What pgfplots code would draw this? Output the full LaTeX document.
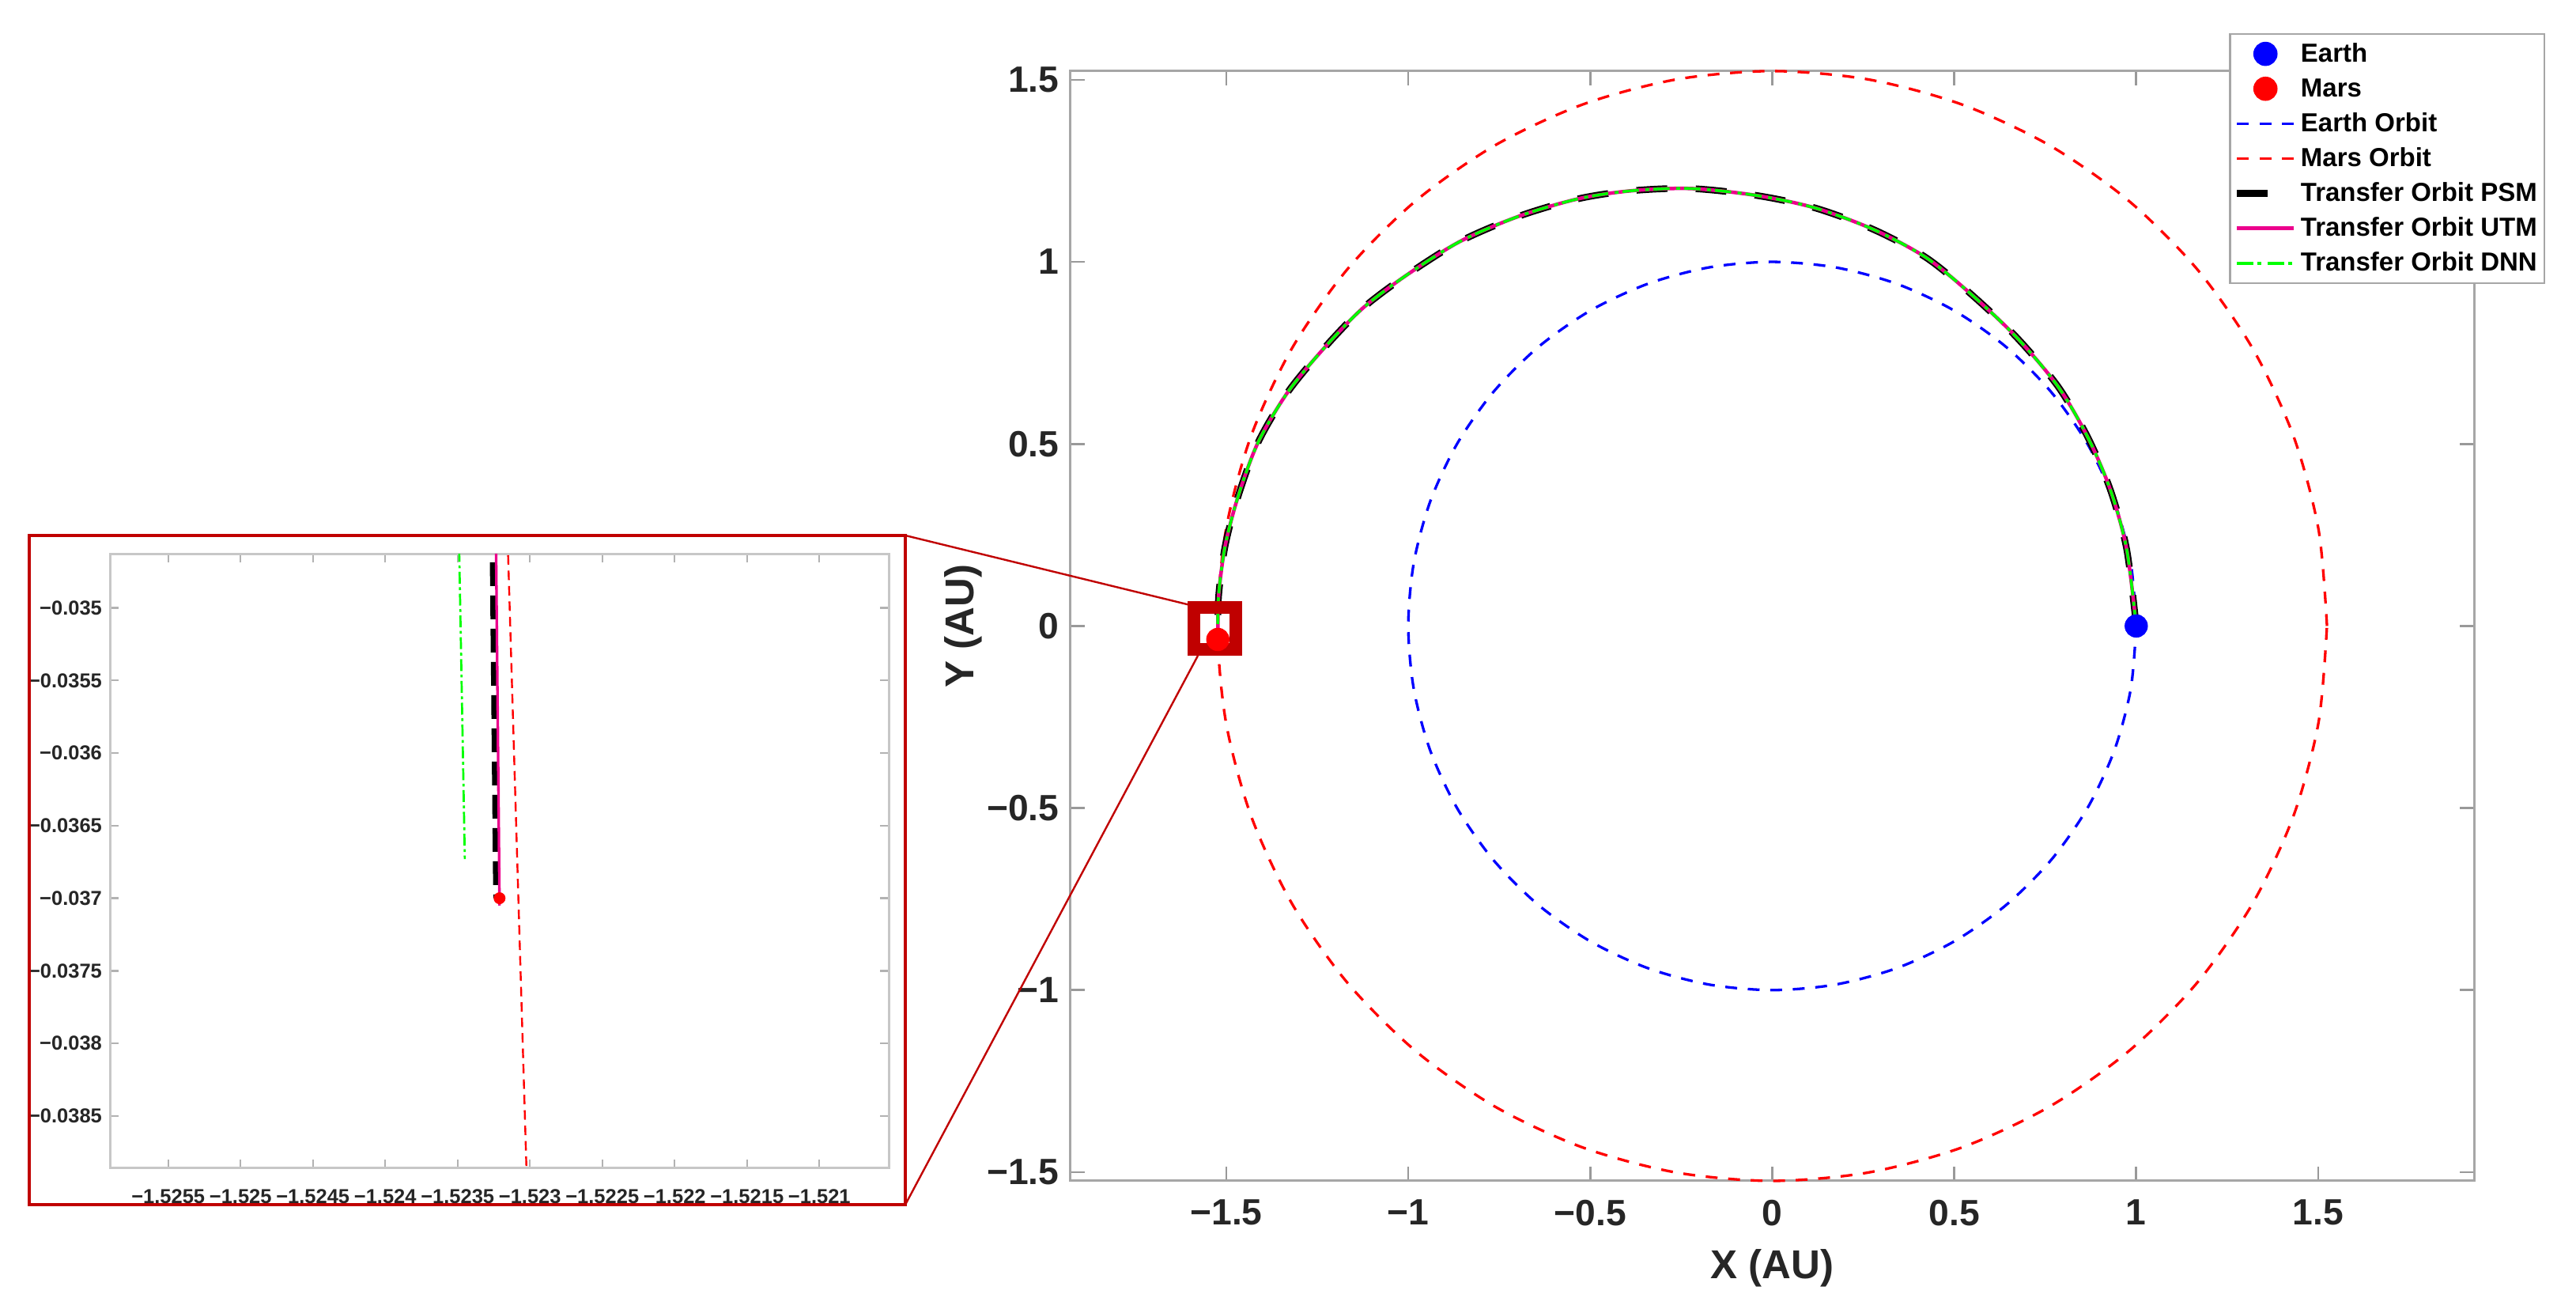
\documentclass[border=0pt]{standalone}
\usepackage{fontspec}
\setmainfont{Liberation Sans}
\usepackage{pgfplots}
\usepackage{pgfplotstable}
\pgfplotsset{compat=1.18}
\definecolor{frameRed}{RGB}{192,0,0}

\pgfplotstableread{
x y
1.0 0.0
0.9735 0.2118
0.9285 0.375
0.8655 0.521
0.7845 0.6585
0.672 0.792
0.5503 0.9077
0.4243 1.0106
0.2802 1.088
0.118 1.148
-0.044 1.1825
-0.224 1.2014
-0.3863 1.1953
-0.5303 1.1738
-0.6924 1.1266
-0.8545 1.0578
-0.9985 0.9678
-1.1247 0.8731
-1.2327 0.7615
-1.3317 0.6413
-1.4128 0.5038
-1.4669 0.3578
-1.503 0.2205
-1.521 0.083
-1.5232 -0.037
}\psm

\pgfplotstableread{
x y
1.0 0.0
0.9735 0.2118
0.9285 0.375
0.8655 0.521
0.7845 0.6585
0.672 0.792
0.5503 0.9077
0.4243 1.0106
0.2802 1.088
0.118 1.148
-0.044 1.1825
-0.224 1.2014
-0.3863 1.1953
-0.5303 1.1738
-0.6924 1.1266
-0.8545 1.0578
-0.9985 0.9678
-1.1247 0.8731
-1.2327 0.7615
-1.3317 0.6413
-1.4128 0.5038
-1.4669 0.3578
-1.503 0.2205
-1.521 0.083
-1.5232 -0.03705
}\utm

\pgfplotstableread{
x y
1.0 0.0
0.9735 0.2118
0.9285 0.375
0.8655 0.521
0.7845 0.6585
0.672 0.792
0.5503 0.9077
0.4243 1.0106
0.2802 1.088
0.118 1.148
-0.044 1.1825
-0.224 1.2014
-0.3863 1.1953
-0.5303 1.1738
-0.6924 1.1266
-0.8545 1.0578
-0.9985 0.9678
-1.1247 0.8731
-1.2327 0.7615
-1.3317 0.6413
-1.4128 0.5038
-1.4669 0.3578
-1.503 0.2205
-1.5212 0.083
-1.5234 -0.0367
}\dnn

\begin{document}
\begin{tikzpicture}
\useasboundingbox (0,0) rectangle (1086pt,553.33pt);

% ---------------- main axis ----------------
\begin{axis}[
  at={(451.3pt,55.67pt)}, anchor=south west,
  scale only axis, width=591.7pt, height=467.7pt,
  xmin=-1.928, xmax=1.928, ymin=-1.524, ymax=1.524,
  clip=false,
  axis line style={draw=black!35, line width=1pt},
  tick style={draw=black!40, line width=0.9pt},
  tick align=inside, major tick length=6pt,
  xtick={-1.5,-1,-0.5,0,0.5,1,1.5},
  xticklabels={−1.5,−1,−0.5,0,0.5,1,1.5},
  ytick={-1.5,-1,-0.5,0,0.5,1,1.5},
  yticklabels={−1.5,−1,−0.5,0,0.5,1,1.5},
  ticklabel style={font=\fontsize{15.4}{18}\selectfont\bfseries, text=black!85},
  xticklabel style={yshift=-4.5pt},
  yticklabel style={xshift=-1.3pt},
  xlabel={X (AU)}, ylabel={Y (AU)},
  label style={font=\fontsize{17}{20}\selectfont\bfseries, text=black!85},
  xlabel style={at={(axis description cs:0.5,0)}, anchor=center, yshift=-36.7pt},
  ylabel style={at={(axis description cs:-0.0766,0.5)}, anchor=center},
  legend style={at={(axis description cs:1.0507,1.0342)}, anchor=north east,
    draw=black!35, line width=0.8pt, fill=white,
    font=\fontsize{11}{13}\selectfont\bfseries,
    inner xsep=1.5pt, inner ysep=1pt, row sep=0pt,
    nodes={text height=7.9pt, text depth=1.2pt, inner ysep=2.8pt, inner xsep=1.5pt}},
  legend cell align=left,
  legend image code/.code={\draw[mark repeat=2,mark phase=2,#1] plot coordinates {(0pt,0pt) (12pt,0pt) (24pt,0pt)};},
]
\addplot[only marks, mark=*, mark size=4.7pt, color=blue] coordinates {(1,0)};
\addlegendentry{Earth}
\addplot[only marks, mark=*, mark size=4.7pt, color=red] coordinates {(-1.5232,-0.037)};
\addlegendentry{Mars}

\addplot[blue, line width=1.1pt, dash pattern=on 5pt off 4.5pt, smooth] coordinates {
(1,0) (0.98481,0.17365) (0.93969,0.34202) (0.86603,0.5) (0.76604,0.64279) (0.64279,0.76604) (0.5,0.86603) (0.34202,0.93969) (0.17365,0.98481) (0,1)
(-0.17365,0.98481) (-0.34202,0.93969) (-0.5,0.86603) (-0.64279,0.76604) (-0.76604,0.64279) (-0.86603,0.5) (-0.93969,0.34202) (-0.98481,0.17365) (-1,0)
(-0.98481,-0.17365) (-0.93969,-0.34202) (-0.86603,-0.5) (-0.76604,-0.64279) (-0.64279,-0.76604) (-0.5,-0.86603) (-0.34202,-0.93969) (-0.17365,-0.98481) (0,-1)
(0.17365,-0.98481) (0.34202,-0.93969) (0.5,-0.86603) (0.64279,-0.76604) (0.76604,-0.64279) (0.86603,-0.5) (0.93969,-0.34202) (0.98481,-0.17365) (1,0)};
\addlegendentry{Earth Orbit}

\addplot[red, line width=1.1pt, dash pattern=on 5pt off 4.5pt, smooth] coordinates {
(1.524,0) (1.50085,0.26464) (1.43209,0.52124) (1.31983,0.762) (1.16744,0.97961) (0.97961,1.16744) (0.762,1.31983) (0.52124,1.43209) (0.26464,1.50085) (0,1.524)
(-0.26464,1.50085) (-0.52124,1.43209) (-0.762,1.31983) (-0.97961,1.16744) (-1.16744,0.97961) (-1.31983,0.762) (-1.43209,0.52124) (-1.50085,0.26464) (-1.524,0)
(-1.50085,-0.26464) (-1.43209,-0.52124) (-1.31983,-0.762) (-1.16744,-0.97961) (-0.97961,-1.16744) (-0.762,-1.31983) (-0.52124,-1.43209) (-0.26464,-1.50085) (0,-1.524)
(0.26464,-1.50085) (0.52124,-1.43209) (0.762,-1.31983) (0.97961,-1.16744) (1.16744,-0.97961) (1.31983,-0.762) (1.43209,-0.52124) (1.50085,-0.26464) (1.524,0)};
\addlegendentry{Mars Orbit}

\addplot[black, line width=2.8pt, dash pattern=on 13pt off 12pt, smooth] table[x=x,y=y] {\psm};
\addlegendentry{Transfer Orbit PSM}
\addplot[magenta, line width=1.5pt, smooth] table[x=x,y=y] {\utm};
\addlegendentry{Transfer Orbit UTM}
\addplot[green, line width=1.2pt, dash pattern=on 6.9pt off 1.7pt on 1.7pt off 2.7pt, smooth] table[x=x,y=y] {\dnn};
\addlegendentry{Transfer Orbit DNN}

\draw[frameRed, line width=5.3pt] (axis cs:-1.589,-0.064) rectangle (axis cs:-1.474,0.051);
\end{axis}

% ---------------- inset axis ----------------
\begin{axis}[
  at={(46.5pt,61pt)}, anchor=south west,
  scale only axis, width=328.2pt, height=258.8pt,
  xmin=-1.5259, xmax=-1.52052, ymin=-0.03886, ymax=-0.03463,
  scaled x ticks=false, scaled y ticks=false,
  axis line style={draw=black!22, line width=1pt},
  tick style={draw=black!30, line width=0.8pt},
  tick align=inside, major tick length=3.6pt,
  xtick={-1.5255,-1.525,-1.5245,-1.524,-1.5235,-1.523,-1.5225,-1.522,-1.5215,-1.521},
  xticklabels={−1.5255,−1.525,−1.5245,−1.524,−1.5235,−1.523,−1.5225,−1.522,−1.5215,−1.521},
  ytick={-0.0385,-0.038,-0.0375,-0.037,-0.0365,-0.036,-0.0355,-0.035},
  yticklabels={−0.0385,−0.038,−0.0375,−0.037,−0.0365,−0.036,−0.0355,−0.035},
  ticklabel style={font=\fontsize{8.5}{10}\selectfont\bfseries, text=black!85},
  xticklabel style={yshift=-5.5pt},
]
\addplot[only marks, mark=*, mark size=2.3pt, color=red] coordinates {(-1.52321,-0.0370)};
\addplot[red, line width=0.8pt, dash pattern=on 4pt off 2.5pt] coordinates {(-1.52317,-0.0340) (-1.52302,-0.0390)};
\addplot[black, line width=2.9pt, dash pattern=on 10pt off 4pt] coordinates {(-1.52326,-0.0340) (-1.52323,-0.0370)};
\addplot[magenta, line width=1.1pt] coordinates {(-1.52324,-0.0340) (-1.52321,-0.03705)};
\addplot[green, line width=0.9pt, dash pattern=on 5pt off 1.5pt on 1.2pt off 1.5pt] coordinates {(-1.52350,-0.0340) (-1.52345,-0.03673)};
\end{axis}

% ---------------- frame and connectors ----------------
\draw[frameRed, line width=0.8pt] (381.67pt,327.67pt) -- (500.67pt,298.6pt);
\draw[frameRed, line width=0.8pt] (381.67pt,45.67pt) -- (505pt,277pt);
\draw[frameRed, line width=1.1pt] (12.33pt,45.67pt) rectangle (381.67pt,327.67pt);
\end{tikzpicture}
\end{document}
